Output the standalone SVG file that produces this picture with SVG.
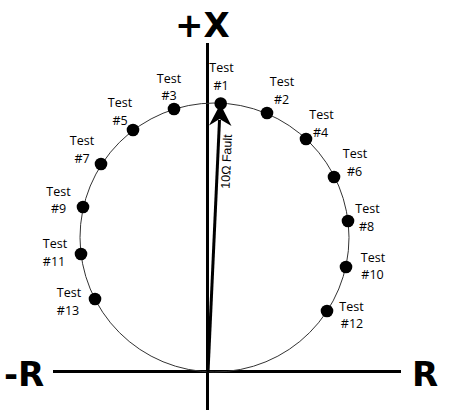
<svg xmlns="http://www.w3.org/2000/svg" width="474" height="418" viewBox="0 0 474 418">
<style>
.axis{stroke:#000;stroke-width:3;fill:none}
.circ{stroke:#333;stroke-width:1;fill:none}
.dot{fill:#000}
.lbl{font-family:"Open Sans","Liberation Sans",sans-serif;font-size:12.5px;fill:#000;text-anchor:middle}
.big{font-family:"DejaVu Sans",sans-serif;font-weight:bold;font-size:34px;fill:#000}
.fl{font-family:"Liberation Sans",Arial,sans-serif;font-size:12.5px;fill:#000}
</style>
<rect width="474" height="418" fill="#fff"/>
<g id="axes">
<line class="axis" x1="207.5" y1="43" x2="207.5" y2="410"/>
<line class="axis" x1="53" y1="371.5" x2="401" y2="371.5"/>
<text class="big" x="175" y="37">+X</text>
<text class="big" x="4" y="386">-R</text>
<text class="big" x="412" y="386">R</text>
</g>
<circle class="circ" cx="214.5" cy="237.5" r="134.5"/>
<g id="connectors">
<line x1="208" y1="372" x2="219.5" y2="120" stroke="#000" stroke-width="3"/>
<path d="M220.3,104 L231.5,126 L219.6,119 L209,125.5 Z" fill="#000"/>
<text class="fl" transform="translate(229.5,189) rotate(-87.4)">10Ω Fault</text>
</g>
<g id="test1"><circle class="dot" cx="220.7" cy="103.5" r="6.3"/><text class="lbl" x="221.5" y="72">Test</text><text class="lbl" x="221" y="90">#1</text></g>
<g id="test2"><circle class="dot" cx="267" cy="113" r="6.3"/><text class="lbl" x="282" y="86">Test</text><text class="lbl" x="281.5" y="103.5">#2</text></g>
<g id="test3"><circle class="dot" cx="174" cy="109" r="6.3"/><text class="lbl" x="169" y="83">Test</text><text class="lbl" x="169" y="100">#3</text></g>
<g id="test4"><circle class="dot" cx="306" cy="139" r="6.3"/><text class="lbl" x="321.5" y="119">Test</text><text class="lbl" x="320.5" y="137">#4</text></g>
<g id="test5"><circle class="dot" cx="133" cy="130" r="6.3"/><text class="lbl" x="120" y="107">Test</text><text class="lbl" x="120" y="125">#5</text></g>
<g id="test6"><circle class="dot" cx="334" cy="177" r="6.3"/><text class="lbl" x="355" y="158">Test</text><text class="lbl" x="354.5" y="176">#6</text></g>
<g id="test7"><circle class="dot" cx="101" cy="164" r="6.3"/><text class="lbl" x="82" y="145">Test</text><text class="lbl" x="82" y="163">#7</text></g>
<g id="test8"><circle class="dot" cx="348" cy="221" r="6.3"/><text class="lbl" x="367.5" y="213">Test</text><text class="lbl" x="366.5" y="231">#8</text></g>
<g id="test9"><circle class="dot" cx="83" cy="207" r="6.3"/><text class="lbl" x="58.5" y="196">Test</text><text class="lbl" x="58.5" y="213">#9</text></g>
<g id="test10"><circle class="dot" cx="346" cy="267" r="6.3"/><text class="lbl" x="373" y="262">Test</text><text class="lbl" x="372.5" y="279">#10</text></g>
<g id="test11"><circle class="dot" cx="81" cy="254" r="6.3"/><text class="lbl" x="55" y="248">Test</text><text class="lbl" x="54" y="266">#11</text></g>
<g id="test12"><circle class="dot" cx="327" cy="311" r="6.3"/><text class="lbl" x="351.5" y="311">Test</text><text class="lbl" x="352" y="328">#12</text></g>
<g id="test13"><circle class="dot" cx="95" cy="299" r="6.3"/><text class="lbl" x="69" y="297">Test</text><text class="lbl" x="68" y="315">#13</text></g>
</svg>
